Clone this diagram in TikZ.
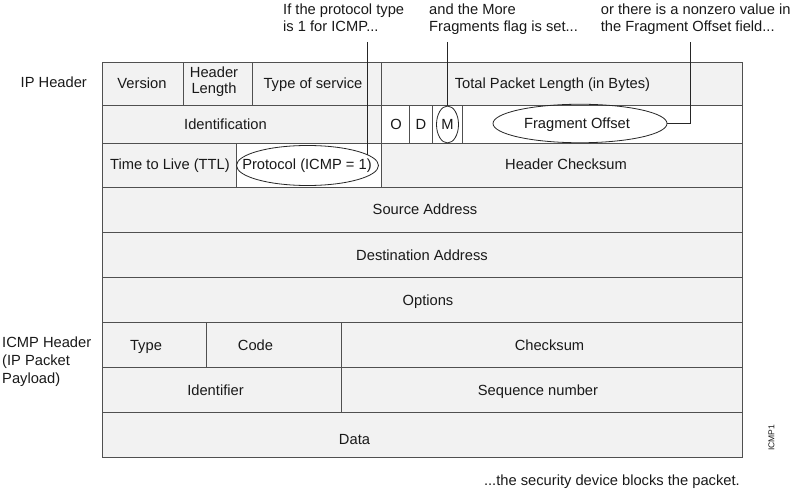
\documentclass[tikz,border=0pt]{standalone}
\usepackage{fontspec}
\setmainfont{Liberation Sans}
\usetikzlibrary{shapes.geometric}
\definecolor{cellgray}{HTML}{F2F2F2}
\definecolor{rulegray}{HTML}{505050}
\tikzset{
  field/.style={draw=rulegray, fill=cellgray, line width=0.9pt},
  openfield/.style={field, fill=white},
  txt/.style={font=\fontsize{14.7}{17}\selectfont, inner sep=0pt, text=black!90},
  cell/.style={txt, anchor=base},
  note/.style={txt, align=left, anchor=north west},
  oval/.style={draw=black!85, ellipse, line width=0.8pt, inner sep=0pt},
  leader/.style={draw=black!85, line width=0.8pt},
}

\begin{document}
\begin{tikzpicture}[x=1pt,y=-1pt]
\useasboundingbox (0,0) rectangle (797,494);

% IP header, first three rows
\draw[field] (102,62) rectangle (183,105.5);
\draw[field] (183,62) rectangle (252,105.5);
\draw[field] (252,62) rectangle (381,105.5);
\draw[field] (381,62) rectangle (742,105.5);
\draw[field] (102,105.5) rectangle (381,143.5);
\draw[openfield] (381,105.5) rectangle (409,143.5);
\draw[openfield] (409,105.5) rectangle (432,143.5);
\draw[openfield] (432,105.5) rectangle (462,143.5);
\draw[openfield] (462,105.5) rectangle (742,143.5);
\draw[field] (102,143.5) rectangle (236,187.5);
\draw[openfield] (236,143.5) rectangle (381,187.5);
\draw[field] (381,143.5) rectangle (742,187.5);

% addresses and options
\foreach \rowtop in {187.5,232.5,277.5}
  \draw[field] (102,\rowtop) rectangle (742,\rowtop+45);

% ICMP header and data
\draw[field] (102,322.5) rectangle (206,367.5);
\draw[field] (206,322.5) rectangle (341,367.5);
\draw[field] (341,322.5) rectangle (742,367.5);
\draw[field] (102,367.5) rectangle (341,412.5);
\draw[field] (341,367.5) rectangle (742,412.5);
\draw[field] (102,412.5) rectangle (742,457);

% field names
\node[cell] (version) at (142,89) {Version};
\node[txt, align=center, anchor=north, font=\fontsize{14.7}{15.5}\selectfont] (hlen) at (214,67) {Header\\Length};
\node[cell] (tos) at (313,89) {Type of service};
\node[cell] (total) at (552.5,89) {Total Packet Length (in Bytes)};
\node[cell] (ident) at (225.5,129.5) {Identification};
\node[cell] (oflag) at (396,129.5) {O};
\node[cell] (dflag) at (421,129.5) {D};
\node[cell] (mflag) at (447.5,129.5) {M};
\node[cell] (fragoff) at (577,128.5) {Fragment Offset};
\node[cell] (ttl) at (170,170) {Time to Live (TTL)};
\node[cell] (proto) at (307,170) {Protocol (ICMP = 1)};
\node[cell] (hdrsum) at (566,170) {Header Checksum};
\node[cell] (src) at (425,215) {Source Address};
\node[cell] (dst) at (422,260) {Destination Address};
\node[cell] (opts) at (428,305) {Options};
\node[cell] (type) at (146,350.5) {Type};
\node[cell] (code) at (255.5,350.5) {Code};
\node[cell] (icmpsum) at (549.5,350.5) {Checksum};
\node[cell] (idf) at (215.5,395.5) {Identifier};
\node[cell] (seq) at (538,395.5) {Sequence number};
\node[cell] (data) at (354.5,444) {Data};

% the three checked fields
\node[oval, minimum width=142pt, minimum height=40pt] (protoval) at (307.5,165.5) {};
\node[oval, minimum width=22pt, minimum height=37pt] (mval) at (447.5,124.5) {};
\node[oval, minimum width=174pt, minimum height=38.5pt] (fragval) at (580,123.5) {};

% notes and leaders
\node[note] (protonote) at (283,4) {If the protocol type\\is 1 for ICMP...};
\node[note] (morenote) at (429,4) {and the More\\Fragments flag is set...};
\node[note] (offnote) at (600.7,4) {or there is a nonzero value in\\the Fragment Offset field...};
\coordinate (protoend) at (367,42);
\coordinate (moreend) at (447.5,42);
\coordinate (offend) at (690,42);
\draw[leader] (protoend) -- (protoend |- protoval.10);
\draw[leader] (moreend) -- (mval.north);
\draw[leader] (fragval.east) -| (offend);

% side labels
\node[txt, anchor=base west] (iphdr) at (20.5,88) {IP Header};
\node[note, font=\fontsize{14.7}{18}\selectfont] (icmphdr) at (2,336.5) {ICMP Header\\(IP Packet\\Payload)};
\node[txt, anchor=base east] (verdict) at (740,485) {...the security device blocks the packet.};
\node[txt, font=\fontsize{8.5}{9}\selectfont, rotate=90] (figid) at (771.5,438) {ICMP1};

\end{tikzpicture}
\end{document}
